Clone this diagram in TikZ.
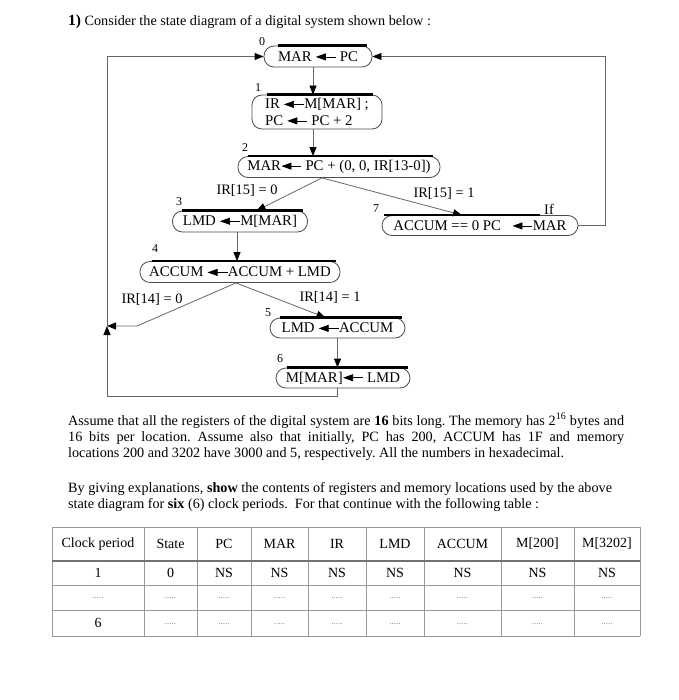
\documentclass[tikz,border=0pt]{standalone}
\usepackage{fontspec}
\setmainfont{Liberation Serif}
\usetikzlibrary{arrows.meta}
\newcommand\ldarr{\tikz[baseline=-0.65ex]\draw[line width=0.7pt,black,{Triangle[length=10pt,width=7pt]}-](0pt,0pt)--(20pt,0pt);}
\frenchspacing
\begin{document}
\begin{tikzpicture}[x=1pt,y=-1pt,
  stbox/.style={draw=black!70,line width=0.8pt,rounded corners=10pt,inner sep=0pt,font=\fontsize{14.8}{16.5}\selectfont},
  topbar/.style={line width=2.4pt,black},
  wire/.style={draw=black!60,line width=0.8pt},
  arrw/.style={-{Triangle[length=9pt,width=7pt,color=black,fill=black]}},
  snum/.style={font=\fontsize{12}{13}\selectfont,inner sep=0pt},
  cond/.style={font=\fontsize{14.4}{15}\selectfont,inner sep=0pt},
  body/.style={font=\fontsize{14.2}{16}\selectfont,inner sep=0pt,anchor=base west},
  tline/.style={draw=black!40,line width=0.8pt},
  cell/.style={font=\fontsize{14}{15}\selectfont,inner sep=0pt},
  dcell/.style={font=\fontsize{9}{10}\selectfont,text=black!50,inner sep=0pt}]
\useasboundingbox[fill=white] (0,0) rectangle (678,700);

% title
\node[body] (title) at (68,26) {{\fontsize{15.5}{16}\selectfont\textbf{1)}} Consider the state diagram of a digital system shown below :};

% states
\node[stbox,minimum width=108pt,minimum height=21pt] (s0) at (318,56.5) {MAR \ldarr{} PC};
\node[stbox,minimum width=130pt,minimum height=34pt,align=left] (s1) at (317,112) {IR \ldarr{}M[MAR] ;\\PC \ldarr{} PC + 2};
\node[stbox,minimum width=202pt,minimum height=21pt] (s2) at (339,167) {MAR\ldarr{} PC + (0, 0, IR[13-0])};
\node[stbox,minimum width=135pt,minimum height=21pt] (s3) at (240,221.5) {LMD \ldarr{}M[MAR]};
\node[stbox,minimum width=196pt,minimum height=20pt] (s7) at (480,225.5) {ACCUM == 0 PC \ \ \ldarr{}MAR};
\node[stbox,minimum width=200pt,minimum height=21pt] (s4) at (240,272) {ACCUM \ldarr{}ACCUM + LMD};
\node[stbox,minimum width=135pt,minimum height=20pt] (s5) at (337.5,328) {LMD \ldarr{}ACCUM};
\node[stbox,minimum width=134pt,minimum height=20pt] (s6) at (343,378) {M[MAR]\ldarr{} LMD};

% bars
\draw[topbar] ([xshift=14pt]s0.north west) -- ([xshift=-5pt]s0.north east);
\draw[topbar] ([xshift=15pt]s1.north west) -- ([xshift=-9pt]s1.north east);
\draw[topbar] ([xshift=10pt]s2.north west) -- ([xshift=-7pt]s2.north east);
\draw[topbar] ([xshift=10pt]s3.north west) -- ([xshift=-5pt]s3.north east);
\draw[topbar] ([xshift=2pt]s7.north west) -- ([xshift=-38pt]s7.north east);
\draw[topbar] ([xshift=12pt]s4.north west) -- ([xshift=-4pt]s4.north east);
\draw[topbar] ([xshift=10pt]s5.north west) -- ([xshift=-3pt]s5.north east);
\draw[topbar] ([xshift=11pt]s6.north west) -- ([xshift=-2pt]s6.north east);

% state numbers
\node[snum] (n0) at (262,42) {0};
\node[snum] (n1) at (258,88) {1};
\node[snum] (n2) at (245,148) {2};
\node[snum] (n3) at (179,202) {3};
\node[snum] (n7) at (376,209) {7};
\node[snum] (n4) at (155,249) {4};
\node[snum] (n5) at (268,313) {5};
\node[snum] (n6) at (280,359) {6};

% condition labels
\node[cond] (l15a) at (247,190) {IR[15] = 0};
\node[cond] (l15b) at (444,193) {IR[15] = 1};
\node[cond] (lif) at (549,209) {If};
\node[cond] (l14a) at (152,299) {IR[14] = 0};
\node[cond] (l14b) at (330,297) {IR[14] = 1};

% connectors
\coordinate (c01) at ([xshift=-5pt]s0.south);
\draw[wire,arrw] (c01) -- (c01 |- s1.north);
\draw[wire,arrw] (c01 |- s1.south) -- (c01 |- s2.north);
\coordinate (c2) at ([xshift=-17pt]s2.south);
\draw[wire,arrw] (c2) -- ([xshift=16.5pt]s3.north);
\draw[wire,arrw] (c2) -- ([xshift=-18pt]s7.north);
\draw[wire,arrw] (s7.east) -- ++(27,0) |- (s0.east);
\coordinate (c3) at ([xshift=-3pt]s3.south);
\draw[wire,arrw] (c3) -- (c3 |- s4.north);
\coordinate (c4) at ([xshift=-4pt]s4.south);
\draw[wire,arrw] (c4) -- ([xshift=-12pt]s5.north);
\coordinate (lj) at (107,326);
\draw[wire,arrw] (c4) -- (137,326) -- (lj);
\draw[wire,arrw] (s5.south) -- (s5.south |- s6.north);
\draw[wire,arrw] (s5.south |- s6.south) -- ++(0,8) -| (lj);
\draw[wire,arrw] (lj) |- (s0.west);

% paragraphs
\node[body] (p1a) at (68,425) {\makebox[556pt][s]{Assume that all the registers of the digital system are \textbf{16} bits long. The memory has 2\textsuperscript{16} bytes and}};
\node[body] (p1b) at (68,441) {\makebox[556pt][s]{16 bits per location. Assume also that initially, PC has 200, ACCUM has 1F and memory}};
\node[body] (p1c) at (68,457) {locations 200 and 3202 have 3000 and 5, respectively. All the numbers in hexadecimal.};
\node[body] (p2a) at (68,492) {By giving explanations, \textbf{show} the contents of registers and memory locations used by the above};
\node[body] (p2b) at (68,508) {state diagram for \textbf{six} (6) clock periods.\ \ For that continue with the following table :};

% table
\foreach \x in {52,144,197,251,308,366,424,501,574,640} \draw[tline] (\x,527) -- (\x,636);
\foreach \y in {527,585,610,636} \draw[tline] (52,\y) -- (640,\y);
\draw[line width=2.6pt,black!55] (52,561) -- (640,561);
\foreach \t/\c [count=\i] in {Clock period/98,State/170.5,PC/224,MAR/279.5,IR/337,LMD/395,ACCUM/462.5,M[200]/537.5,M[3202]/607}
  \node[cell] (h\i) at (\c,544) {\t};
\foreach \t/\c [count=\i] in {1/98,0/170.5,NS/224,NS/279.5,NS/337,NS/395,NS/462.5,NS/537.5,NS/607}
  \node[cell] (r\i) at (\c,573) {\t};
\foreach \c [count=\i] in {98,170.5,224,279.5,337,395,462.5,537.5,607}
  \node[dcell] (d\i) at (\c,598) {.....};
\node[cell] (e1) at (98,623) {6};
\foreach \c [count=\i] in {170.5,224,279.5,337,395,462.5,537.5,607}
  \node[dcell] (e\i x) at (\c,624) {.....};
\end{tikzpicture}
\end{document}
